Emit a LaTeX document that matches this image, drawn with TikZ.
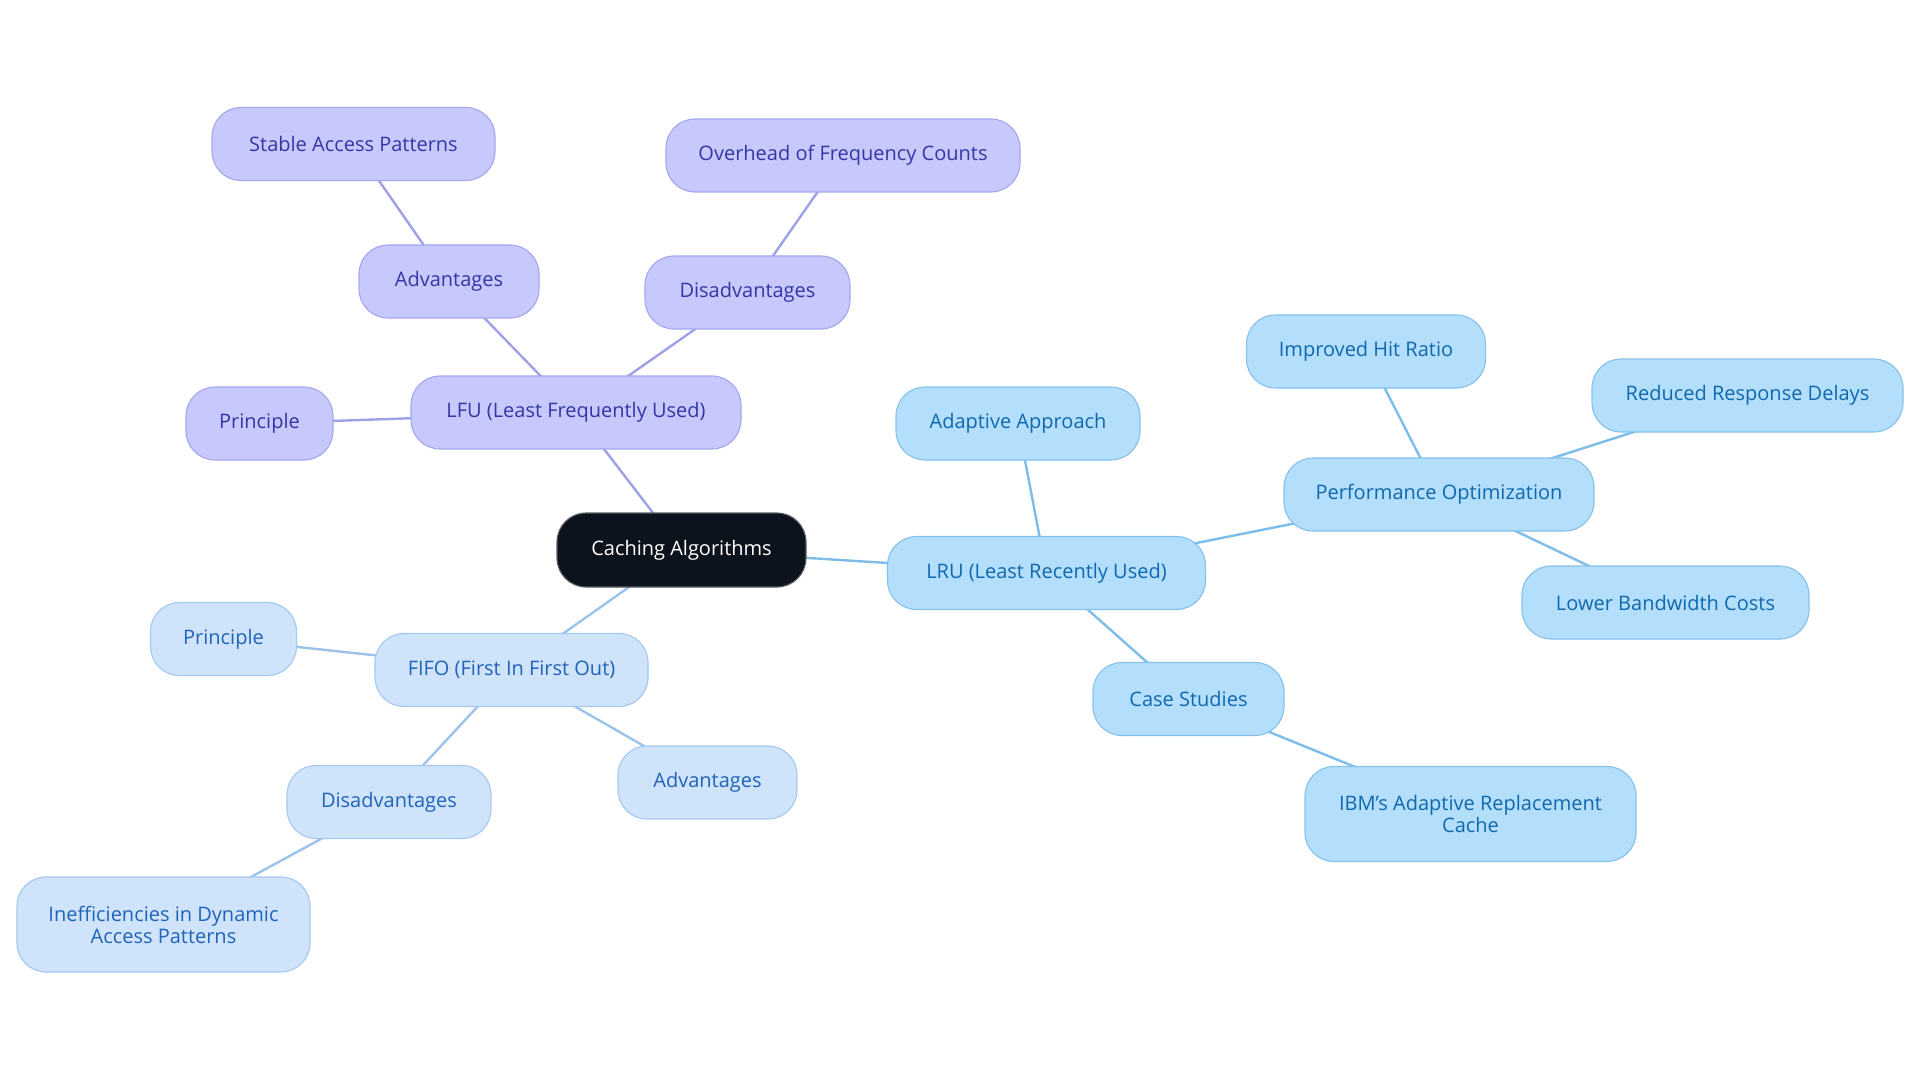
\documentclass[tikz,border=0pt]{standalone}
\usepackage{fontspec}
\setmainfont{Open Sans}
\usetikzlibrary{backgrounds}
\definecolor{rootFill}{HTML}{0D131C}
\definecolor{rootLine}{HTML}{5A5F66}
\definecolor{pFill}{HTML}{C7C9FD}
\definecolor{pLine}{HTML}{A3A6EE}
\definecolor{pText}{HTML}{3535A6}
\definecolor{pEdge}{HTML}{9EA1E6}
\definecolor{bFill}{HTML}{B3DEFC}
\definecolor{bLine}{HTML}{86C1EC}
\definecolor{bText}{HTML}{1068AE}
\definecolor{bEdge}{HTML}{7DBDE9}
\definecolor{lFill}{HTML}{CFE4FB}
\definecolor{lLine}{HTML}{A4C8F0}
\definecolor{lText}{HTML}{1F63BA}
\definecolor{lEdge}{HTML}{9CC3EA}
\begin{document}
\begin{tikzpicture}[x=1pt,y=-1pt,
  box/.style={rectangle, rounded corners=29pt, line width=1.1pt, align=center,
    font=\fontsize{20}{22}\selectfont, minimum height=73pt, inner sep=0pt},
  rootbox/.style={box, fill=rootFill, draw=rootLine, text=white},
  pbox/.style={box, fill=pFill, draw=pLine, text=pText},
  bbox/.style={box, fill=bFill, draw=bLine, text=bText},
  lbox/.style={box, fill=lFill, draw=lLine, text=lText},
  pedge/.style={draw=pEdge, line width=2.4pt},
  bedge/.style={draw=bEdge, line width=2.4pt},
  ledge/.style={draw=lEdge, line width=2.4pt}]
\useasboundingbox (0,0) rectangle (1920,1083);
% root
\node[rootbox, minimum width=249pt, minimum height=74pt] (root) at (681.5,550) {Caching Algorithms};
% LFU branch
\node[pbox, minimum width=330pt] (lfu) at (576,412.5) {LFU (Least Frequently Used)};
\node[pbox, minimum width=147pt] (lfuprin) at (259.5,423.5) {Principle};
\node[pbox, minimum width=180pt] (lfuadv) at (449,281.5) {Advantages};
\node[pbox, minimum width=283pt] (stable) at (353.5,144) {Stable Access Patterns};
\node[pbox, minimum width=205pt] (lfudis) at (747.5,292.5) {Disadvantages};
\node[pbox, minimum width=354pt] (overhead) at (843,155.5) {Overhead of Frequency Counts};
% LRU branch
\node[bbox, minimum width=318pt] (lru) at (1046.5,573) {LRU (Least Recently Used)};
\node[bbox, minimum width=244pt] (adaptive) at (1018,423.5) {Adaptive Approach};
\node[bbox, minimum width=310pt] (perf) at (1439,494.5) {Performance Optimization};
\node[bbox, minimum width=239pt] (hit) at (1366,351.5) {Improved Hit Ratio};
\node[bbox, minimum width=311pt] (reduced) at (1747.5,395.5) {Reduced Response Delays};
\node[bbox, minimum width=287pt] (lower) at (1665.5,602.5) {Lower Bandwidth Costs};
\node[bbox, minimum width=191pt] (cases) at (1188.5,699) {Case Studies};
\node[bbox, minimum width=331pt, minimum height=95pt] (ibm) at (1470.5,814) {IBM's Adaptive Replacement\\Cache};
% FIFO branch
\node[lbox, minimum width=273pt] (fifo) at (511.5,670) {FIFO (First In First Out)};
\node[lbox, minimum width=146pt] (fifoprin) at (223.5,639) {Principle};
\node[lbox, minimum width=179pt] (fifoadv) at (707.5,782.5) {Advantages};
\node[lbox, minimum width=204pt] (fifodis) at (389,802) {Disadvantages};
\node[lbox, minimum width=293pt, minimum height=95pt] (ineff) at (163.5,924.5) {Inefficiencies in Dynamic\\Access Patterns};
\begin{scope}[on background layer]
\fill[white] (0,0) rectangle (1920,1083);
\draw[pedge] (root.center) -- (lfu.center);
\draw[pedge] (lfu.center) -- (lfuprin.center);
\draw[pedge] (lfu.center) -- (lfuadv.center);
\draw[pedge] (lfuadv.center) -- (stable.center);
\draw[pedge] (lfu.center) -- (lfudis.center);
\draw[pedge] (lfudis.center) -- (overhead.center);
\draw[bedge] (root.center) -- (lru.center);
\draw[bedge] (lru.center) -- (adaptive.center);
\draw[bedge] (lru.center) -- (perf.center);
\draw[bedge] (perf.center) -- (hit.center);
\draw[bedge] (perf.center) -- (reduced.center);
\draw[bedge] (perf.center) -- (lower.center);
\draw[bedge] (lru.center) -- (cases.center);
\draw[bedge] (cases.center) -- (ibm.center);
\draw[ledge] (root.center) -- (fifo.center);
\draw[ledge] (fifo.center) -- (fifoprin.center);
\draw[ledge] (fifo.center) -- (fifoadv.center);
\draw[ledge] (fifo.center) -- (fifodis.center);
\draw[ledge] (fifodis.center) -- (ineff.center);
\end{scope}
\end{tikzpicture}
\end{document}
